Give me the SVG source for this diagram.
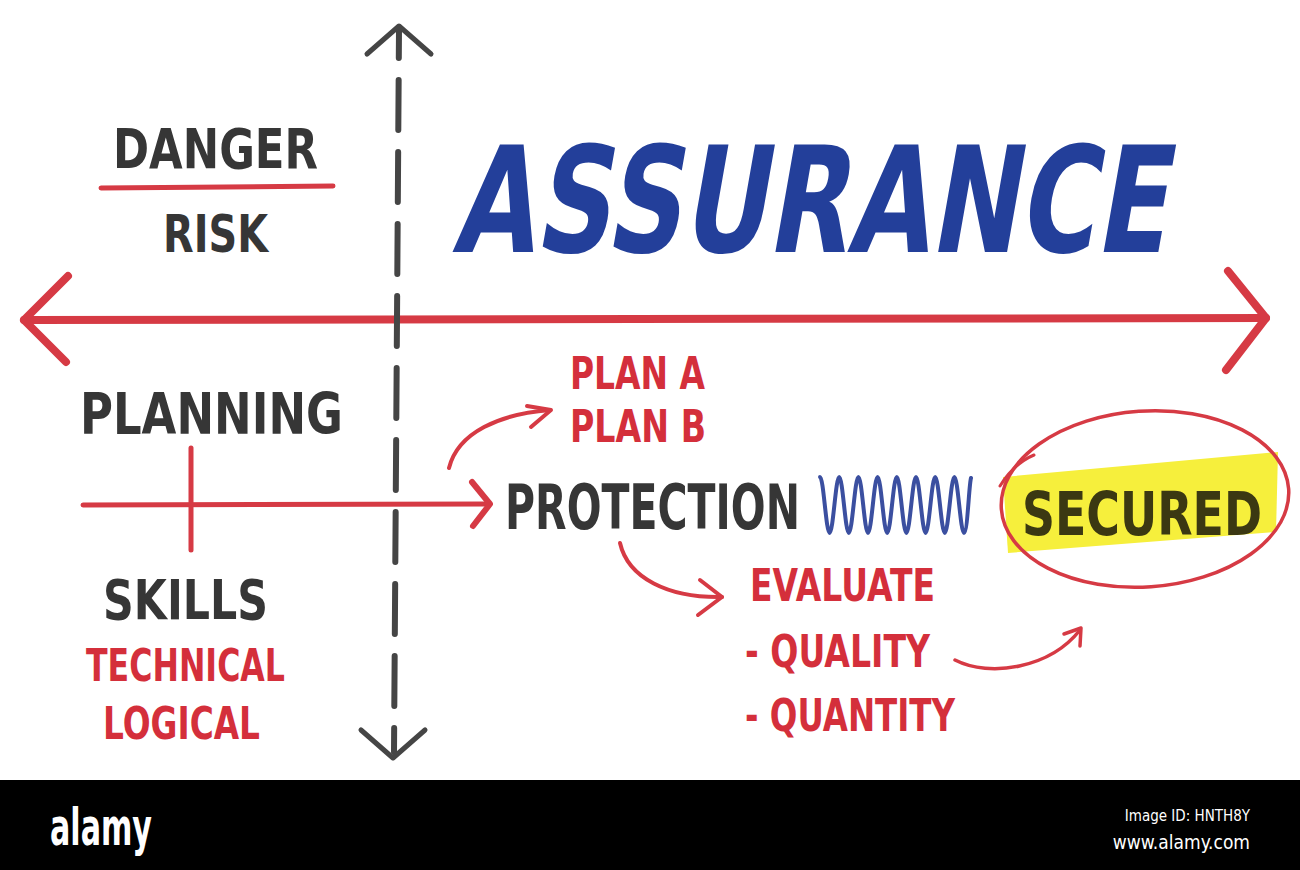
<svg xmlns="http://www.w3.org/2000/svg" width="1300" height="870" viewBox="0 0 1300 870">
<style>
.t{font-family:"DejaVu Sans","Liberation Sans",sans-serif;font-weight:bold}
.tc{font-family:"DejaVu Sans Condensed","DejaVu Sans","Liberation Sans",sans-serif;font-weight:bold}
.dk{fill:#363636}
.rd{fill:#d42f3b}
.ln{fill:none;stroke-linecap:round;stroke-linejoin:round}
.red{stroke:#d63a44}
.gray{stroke:#454545}
</style>
<rect width="1300" height="870" fill="#ffffff"/>

<g id="connectors">
  <path class="ln red" stroke-width="8" d="M24,320 L1266,318"/>
  <path class="ln red" stroke-width="8" d="M68,276 L24,320 L66,362"/>
  <path class="ln red" stroke-width="8" d="M1228,271 L1266,318 L1226,370"/>
  <path class="ln gray" stroke-width="6" stroke-dasharray="50,22" stroke-dashoffset="22" stroke-linecap="butt" d="M399,30 L394,752"/>
  <path class="ln gray" stroke-width="5" d="M367,54 L399,26 L431,54"/>
  <path class="ln gray" stroke-width="5" d="M361,730 L393,758 L425,730"/>
  <path class="ln red" stroke-width="5" d="M83,505 L488,504"/>
  <path class="ln red" stroke-width="6" d="M472,482 L490,504 L473,526"/>
  <path class="ln red" stroke-width="5" d="M191,448 L191,550"/>
  <path class="ln red" stroke-width="4" d="M449,468 C458,432 500,414 550,410"/>
  <path class="ln red" stroke-width="4" d="M527,406 L551,410 L531,427"/>
  <path class="ln red" stroke-width="4" d="M620,543 C628,578 668,598 722,597"/>
  <path class="ln red" stroke-width="4" d="M700,580 L722,597 L698,615"/>
  <path class="ln red" stroke-width="3.5" d="M955,660 C990,678 1050,668 1080,630"/>
  <path class="ln red" stroke-width="3.5" d="M1064,634 L1081,628 L1080,646"/>
  <path class="ln" stroke="#3b4fa0" stroke-width="4" d="M820,477 C823.5,477 826.1,533 829.6,533 S835.7,477 839.2,477 S845.3,533 848.8,533 S854.9,477 858.4,477 S864.5,533 868,533 S874.1,477 877.6,477 S883.7,533 887.2,533 S893.3,477 896.8,477 S902.9,533 906.4,533 S912.5,477 916,477 S922.1,533 925.6,533 S931.7,477 935.2,477 S941.3,533 944.8,533 S950.9,477 954.4,477 S960.5,533 964,533 S969,484 971,478"/>
</g>

<g id="title" transform="translate(452 252) skewX(-10) scale(1 1.23)">
  <text class="tc" x="0" y="0" font-size="120" fill="#233f9a" textLength="714" lengthAdjust="spacingAndGlyphs">ASSURANCE</text>
</g>

<g id="danger-risk">
  <text class="t dk" x="113" y="168" font-size="56" textLength="205" lengthAdjust="spacingAndGlyphs">DANGER</text>
  <path class="ln red" stroke-width="5" d="M101,188 L333,186"/>
  <text class="t dk" x="163" y="252" font-size="52" textLength="105" lengthAdjust="spacingAndGlyphs">RISK</text>
</g>

<g id="planning">
  <text class="t dk" x="80" y="434" font-size="57" textLength="263" lengthAdjust="spacingAndGlyphs">PLANNING</text>
</g>

<g id="skills">
  <text class="t dk" x="103" y="619" font-size="55" textLength="165" lengthAdjust="spacingAndGlyphs">SKILLS</text>
  <text class="t rd" x="86" y="681" font-size="44" textLength="199" lengthAdjust="spacingAndGlyphs">TECHNICAL</text>
  <text class="t rd" x="103" y="739" font-size="44" textLength="157" lengthAdjust="spacingAndGlyphs">LOGICAL</text>
</g>

<g id="plans">
  <text class="t rd" x="570" y="389" font-size="45" textLength="135" lengthAdjust="spacingAndGlyphs">PLAN A</text>
  <text class="t rd" x="570" y="442" font-size="45" textLength="136" lengthAdjust="spacingAndGlyphs">PLAN B</text>
</g>

<g id="protection">
  <text class="t dk" x="505" y="529" font-size="62" textLength="295" lengthAdjust="spacingAndGlyphs">PROTECTION</text>
</g>

<g id="evaluate">
  <text class="t rd" x="750" y="601" font-size="44" textLength="185" lengthAdjust="spacingAndGlyphs">EVALUATE</text>
  <text class="t rd" x="745" y="667" font-size="44" textLength="185" lengthAdjust="spacingAndGlyphs">- QUALITY</text>
  <text class="t rd" x="745" y="731" font-size="44" textLength="210" lengthAdjust="spacingAndGlyphs">- QUANTITY</text>
</g>

<g id="secured">
  <polygon points="1003,477 1278,452 1276,532 1008,553" fill="#f6ef3c"/>
  <ellipse cx="1145" cy="499" rx="144" ry="88" transform="rotate(-4 1145 499)" fill="none" stroke="#d63a44" stroke-width="3.5"/>
  <path class="ln red" stroke-width="3" d="M1000,486 C1010,470 1022,460 1034,455"/>
  <g transform="translate(1022 535) scale(1 1.22)">
    <text class="tc" x="0" y="0" font-size="50" fill="#3b3812" textLength="240" lengthAdjust="spacingAndGlyphs">SECURED</text>
  </g>
</g>

<g id="footer">
  <rect x="0" y="780" width="1300" height="90" fill="#000000"/>
  <text x="50" y="845" font-family="Liberation Sans Narrow,DejaVu Sans Condensed,sans-serif" font-weight="bold" font-size="52" fill="#ffffff" textLength="102" lengthAdjust="spacingAndGlyphs">alamy</text>
  <text x="1250" y="821" font-family="DejaVu Sans Condensed,Liberation Sans,sans-serif" font-size="15" fill="#ffffff" text-anchor="end">Image ID: HNTH8Y</text>
  <text x="1250" y="849" font-family="DejaVu Sans Condensed,Liberation Sans,sans-serif" font-size="19" fill="#ffffff" text-anchor="end">www.alamy.com</text>
</g>
</svg>
